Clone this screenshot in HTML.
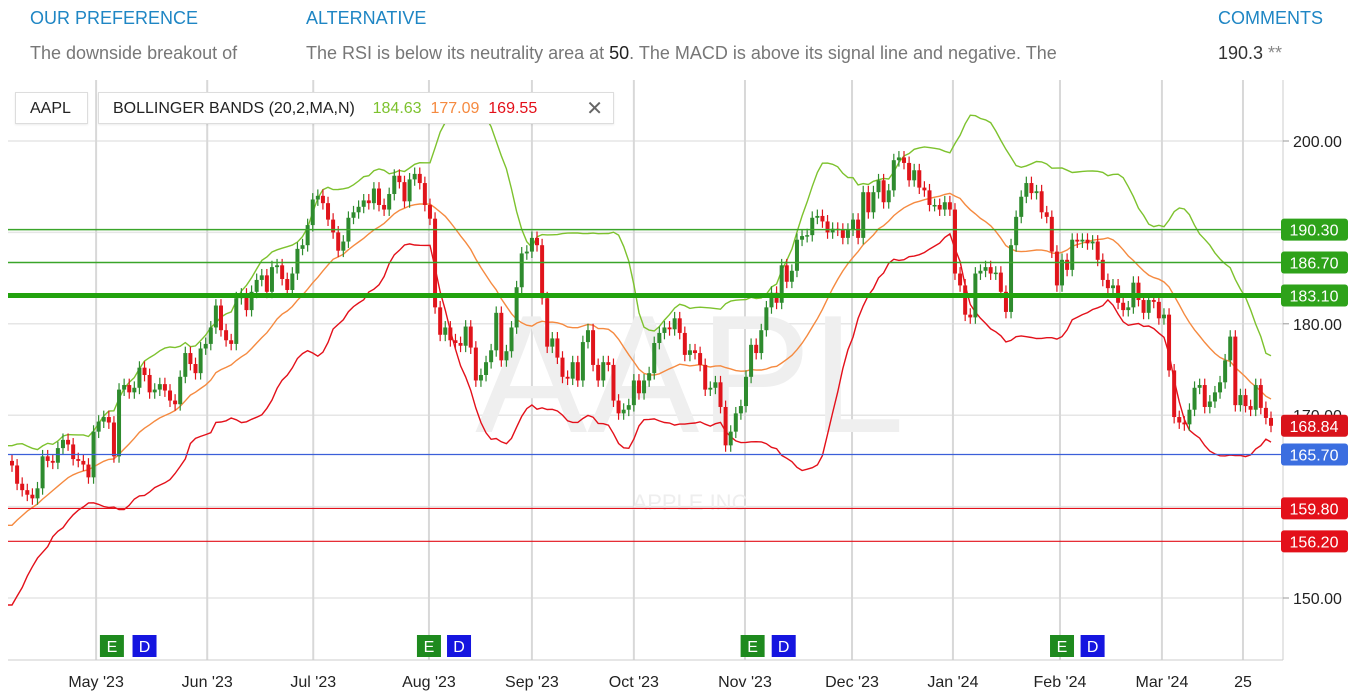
<!DOCTYPE html>
<html><head><meta charset="utf-8"><style>
body{margin:0;background:#fff;font-family:"Liberation Sans",sans-serif;}
#wrap{position:relative;width:1358px;height:695px;overflow:hidden;background:#fff}
.h{position:absolute;font-size:18px;color:#1f86c4;top:8px}
.t{position:absolute;font-size:18px;color:#777;top:43px;white-space:nowrap}
.box{position:absolute;top:92px;height:32px;border:1px solid #ddd;background:#fff;font-size:16px;line-height:32px;box-sizing:border-box;padding:0 14px;color:#222;box-shadow:0 1px 2px rgba(0,0,0,.08)}
</style></head><body>
<div id="wrap">
<div class="h" style="left:30px">OUR PREFERENCE</div>
<div class="h" style="left:306px">ALTERNATIVE</div>
<div class="h" style="left:1218px">COMMENTS</div>
<div class="t" style="left:30px">The downside breakout of</div>
<div class="t" style="left:306px">The RSI is below its neutrality area at <span style="color:#222">50</span>. The MACD is above its signal line and negative. The</div>
<div class="t" style="left:1218px;color:#333">190.3 <span style="color:#888">**</span></div>
<svg id="svg" width="1358" height="695" style="position:absolute;left:0;top:0"></svg>
<div class="box" style="left:15px;width:73px">AAPL</div>
<div class="box" style="left:98px;width:516px">BOLLINGER BANDS (20,2,MA,N) &nbsp;&nbsp; <span style="color:#7dc22e">184.63</span> &nbsp;<span style="color:#f58a40">177.09</span> &nbsp;<span style="color:#e3101a">169.55</span><span style="position:absolute;right:10px;color:#666;font-size:20px">✕</span></div>
</div>
<script>
const preCloses=[150,151,152,151.5,153,154,155,156,155,157,158,157.5,159,160,161,160.5,162,163,164,165];
const closes=[164.5,162.5,161.8,161.3,160.9,162,165.5,165,164.8,166.4,167.3,166.8,165.2,165,164.6,163.2,168.2,169.3,169.8,169.2,165.5,
172.8,173.3,172.5,173,175.2,174.4,172.5,172.8,173.4,172.7,171.6,171.2,174.2,176.8,175.6,174.6,177.3,177.8,179.6,
182,179.3,178.2,177.8,182.8,183.2,181.5,183.5,184.8,185.3,183.5,186.2,186.4,184.9,183.7,185.5,188.2,188.6,190.8,193.6,
194,193.2,191.4,190,188,189,191.6,192.2,192.8,193.5,193.2,194.8,193,192.5,194.2,196.2,195.5,193.4,195.8,196.4,
195.4,193,191.5,
181.8,178.8,179.6,178.2,177.9,177.6,179.7,177.4,173.8,174.4,175.8,177.1,181.2,176,177,179.6,184,187.7,187.9,189.4,188.6,182.8,177.5,178.4,176.3,174.2,174,175.8,173.8,178,179.3,175.5,173.8,175.8,175.5,171.6,170.2,170.6,171.1,173.8,172.4,173.8,174.6,177.9,179,179.6,179.4,180.6,179,176.6,177.1,176.8,175.5,172.8,173,173.6,170.9,166.7,168.2,170.2,171,174.2,177.7,176.8,179.3,181.8,183.4,182.3,186.4,184.6,185.8,189.2,189.6,189.7,191.6,191.8,191.2,190,190.4,190.3,189.4,190.3,191.4,189.4,
194.4,192.2,194.4,195.7,193.3,194.6,197.9,198.2,197.6,195.7,196.8,194.9,194.6,193,193,192.5,193.3,192.5,185.5,184.2,181,180.7,185.5,185.8,186.2,185.5,185.6,183.5,181.3,188.6,191.7,193.9,195.4,194.3,194.5,192.2,191.7,187.9,184.2,187,185.9,189.2,189,189.2,188.8,189,187,184.8,183.9,184.2,182.3,181.5,181.8,184.5,182.6,181.2,182.6,182.4,180.6,181,174.9,169.8,169.2,169,170.6,173,173.3,170.9,171.5,172.5,173.6,176,178.6,171.1,172.2,171,170.6,173.3,170.8,169.7,168.84];
const monthLabels=["May '23","Jun '23","Jul '23","Aug '23","Sep '23","Oct '23","Nov '23","Dec '23","Jan '24","Feb '24","Mar '24","25"];
const monthIdx=[16.5,38.3,59.1,81.8,102,122,143.8,164.8,184.6,205.6,225.6,241.5];
const yTicks=[150,160,170,180,190,200];
const yTickLabels=["150.00","","","180.00","","200.00"];
const levels=[190.30,186.70,183.10,165.70,159.80,156.20];
const levelColors=["#3aa52a","#3aa52a","#22a20e","#3b5fd9","#e3101a","#e3101a"];
const levelWidths=[1.5,1.5,5,1.2,1.2,1.2];
const eventIdx=[19.6,26,81.8,87.7,145.3,151.4,206,212];
const eventType=["E","D","E","D","E","D","E","D"];

const svg=document.getElementById('svg'),NS='http://www.w3.org/2000/svg';
const X0=12,STEP=(1271-12)/(closes.length-1),PL=8,PR=1283,PB=660;
const xs=i=>X0+i*STEP, ys=p=>141+(200-p)*9.14;
function mk(t,a,parent){const e=document.createElementNS(NS,t);for(const k in a)e.setAttribute(k,a[k]);(parent||svg).appendChild(e);return e;}
const defs=mk('defs',{});const cp=mk('clipPath',{id:'cp'},defs);mk('rect',{x:PL,y:80,width:PR-PL,height:PB-80},cp);
yTicks.forEach(v=>{const l=mk('line',{x1:PL,x2:PR,y1:ys(v),y2:ys(v),stroke:'#e6e6e6','stroke-width':1.5});
});
monthIdx.forEach((m,k)=>{const l=mk('line',{x1:xs(m),x2:xs(m),y1:80,y2:PB,stroke:'#d8d8d8','stroke-width':2});

const t=mk('text',{x:xs(m),y:687,'text-anchor':'middle','font-size':16,fill:'#222'});t.textContent=monthLabels[k];
});
mk('line',{x1:PL,x2:PR,y1:PB,y2:PB,stroke:'#ccc'});
mk('line',{x1:PR,x2:PR,y1:80,y2:PB,stroke:'#ccc'});
let w=mk('text',{x:690,y:432,'text-anchor':'middle','font-size':168,fill:'#efefef'});w.textContent='AAPL';

w=mk('text',{x:690,y:510,'text-anchor':'middle','font-size':22,fill:'#eeeeee'});w.textContent='APPLE INC';

yTicks.forEach((v,k)=>{if(!yTickLabels[k])return;mk('line',{x1:PR,x2:PR+6,y1:ys(v),y2:ys(v),stroke:'#999'});
const t=mk('text',{x:1293,y:ys(v)+6,'font-size':16,fill:'#222'});t.textContent=yTickLabels[k];
});
const t170=mk('text',{x:1293,y:ys(170)+6,'font-size':16,fill:'#222'});t170.textContent='170.00';
const all=preCloses.concat(closes),up=[],md=[],lo=[];
for(let i=0;i<closes.length;i++){const j=i+preCloses.length;const win=all.slice(j-19,j+1);const m=win.reduce((a,b)=>a+b,0)/20;
const sd=Math.sqrt(win.reduce((a,b)=>a+(b-m)*(b-m),0)/20);md.push(m);up.push(m+2*sd);lo.push(m-2*sd);}
const g=mk('g',{'clip-path':'url(#cp)'});
[[up,'#7dc22e','upper-band'],[md,'#f58a40','middle-band'],[lo,'#e3101a','lower-band']].forEach(([a,c,n])=>{
const pts=a.map((v,i)=>xs(i).toFixed(1)+','+ys(v).toFixed(1));pts.unshift(PL+','+ys(a[0]).toFixed(1));
const p=mk('polyline',{points:pts.join(' '),fill:'none',stroke:c,'stroke-width':1.4},g);
});
levels.forEach((v,k)=>{const l=mk('line',{x1:PL,x2:PR,y1:ys(v),y2:ys(v),stroke:levelColors[k],'stroke-width':levelWidths[k]});
});
closes.forEach((c,i)=>{const o=i?closes[i-1]:preCloses[preCloses.length-1];const col=c>=o?'#2e8b2e':'#e0141b';
const hi=Math.max(o,c)+0.7,lw=Math.min(o,c)-0.7,x=xs(i);
const wk=mk('line',{x1:x,x2:x,y1:ys(hi),y2:ys(lw),stroke:col,'stroke-width':1.2},g);

const r=mk('rect',{x:x-2,y:ys(Math.max(o,c)),width:4,height:Math.max(1.5,Math.abs(ys(o)-ys(c))),fill:col},g);
});
function tag(v,c,txt){const y=ys(v);const r=mk('rect',{x:1281,y:y-11,width:67,height:22,rx:3,fill:c});

const t=mk('text',{x:1314,y:y+6,'text-anchor':'middle','font-size':16,fill:'#fff'});t.textContent=txt;
}
levels.forEach((v,k)=>tag(v,k==3?'#3b6ee0':(k>3?'#e3101a':'#2ea21a'),v.toFixed(2)));
tag(closes[closes.length-1],'#d9131b',closes[closes.length-1].toFixed(2));
eventIdx.forEach((i,k)=>{const s=eventType[k];const x=xs(i);const r=mk('rect',{x:x-12,y:635,width:24,height:22,fill:s=='E'?'#1e8a1e':'#1515e0'});

const t=mk('text',{x:x,y:652,'text-anchor':'middle','font-size':16,fill:'#fff'});t.textContent=s;
});
</script>
</body></html>
